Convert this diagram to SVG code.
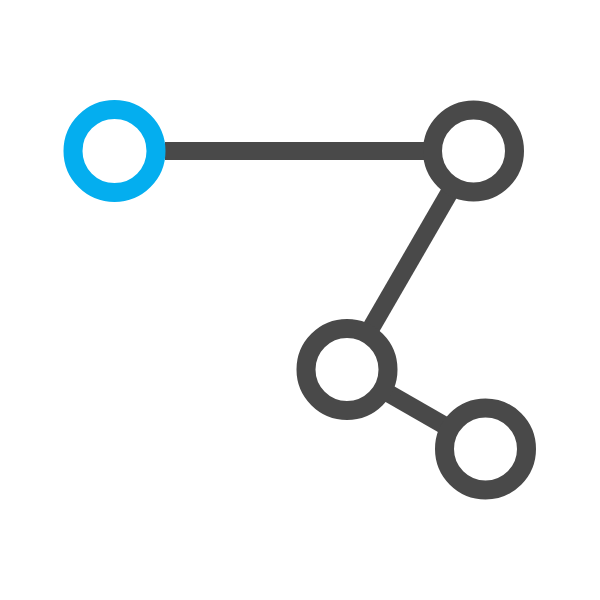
<svg xmlns="http://www.w3.org/2000/svg" width="600" height="600" viewBox="0 0 600 600">
<style>
.n{fill:none;stroke:#494949;stroke-width:19}
.b{fill:none;stroke:#04aeef;stroke-width:19}
.e{stroke:#494949;stroke-width:18;fill:none}
</style>
<rect width="600" height="600" fill="#ffffff"/>
<g id="connectors">
<line class="e" x1="165" y1="151" x2="424" y2="151"/>
<line class="e" x1="473.5" y1="151" x2="347" y2="369.5"/>
<line class="e" x1="347" y1="369.5" x2="485.5" y2="449"/>
</g>
<g id="node1"><circle class="b" cx="114.5" cy="151" r="41.5"/></g>
<g id="node2"><circle class="n" cx="473.5" cy="151" r="41" fill="#fff" style="fill:#fff"/></g>
<g id="node3"><circle class="n" cx="347" cy="369.5" r="41" style="fill:#fff"/></g>
<g id="node4"><circle class="n" cx="485.5" cy="449" r="41" style="fill:#fff"/></g>
</svg>
